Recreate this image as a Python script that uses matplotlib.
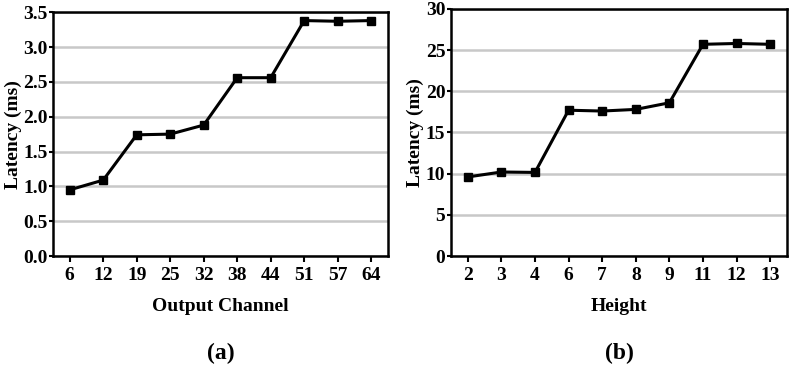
import matplotlib
matplotlib.use("Agg")
import matplotlib.pyplot as plt
import numpy as np

plt.rcParams['font.family'] = ['Liberation Serif', 'DejaVu Serif']
plt.rcParams['font.weight'] = 'bold'

# Data
channels = ['6', '12', '19', '25', '32', '38', '44', '51', '57', '64']
latency_channel = [0.95, 1.09, 1.74, 1.75, 1.88, 2.56, 2.56, 3.38, 3.37, 3.38]

heights = ['2', '3', '4', '6', '7', '8', '9', '11', '12', '13']
latency_height = [9.6, 10.2, 10.15, 17.7, 17.6, 17.8, 18.6, 25.7, 25.8, 25.7]

fig = plt.figure(figsize=(7.93, 3.70), dpi=100)
ax1 = fig.add_axes([0.0668, 0.308, 0.4224, 0.659])
ax2 = fig.add_axes([0.5687, 0.308, 0.4237, 0.668])


def draw(ax, labels, values, ymax, ystep, yfmt, xlabel, tag):
    x = np.arange(len(labels))
    ax.plot(x, values, color='black', linewidth=2.2, marker='s', markersize=6, zorder=3)
    ax.set_xlim(-0.5, len(labels) - 0.5)
    ax.set_ylim(0, ymax)
    ax.set_xticks(x)
    ax.set_xticklabels(labels)
    yt = np.arange(0, ymax + ystep / 2, ystep)
    ax.set_yticks(yt)
    ax.set_yticklabels([yfmt.format(v) for v in yt])
    ax.yaxis.grid(True, color='#c8c8c8', linewidth=1.8)
    ax.set_axisbelow(True)
    for s in ax.spines.values():
        s.set_linewidth(1.8)
        s.set_color('black')
    ax.tick_params(axis='x', direction='out', length=4, width=1.5, labelsize=14, pad=4)
    ax.tick_params(axis='y', direction='out', length=3, width=1.5, labelsize=14, pad=1)
    ax.set_ylabel('Latency (ms)', fontsize=14, fontweight='bold', labelpad=1)
    ax.set_xlabel(xlabel, fontsize=14, fontweight='bold', labelpad=10)
    # sub-figure tag, placed in figure coordinates so both sit on one line
    cx = ax.get_position().x0 + ax.get_position().width / 2
    fig.text(cx, 0.046, tag, ha='center', va='center', fontsize=17, fontweight='bold')


draw(ax1, channels, latency_channel, 3.5, 0.5, '{:.1f}', 'Output Channel', '(a)')
draw(ax2, heights, latency_height, 30, 5, '{:.0f}', 'Height', '(b)')

fig.savefig('out.png', dpi=100)
